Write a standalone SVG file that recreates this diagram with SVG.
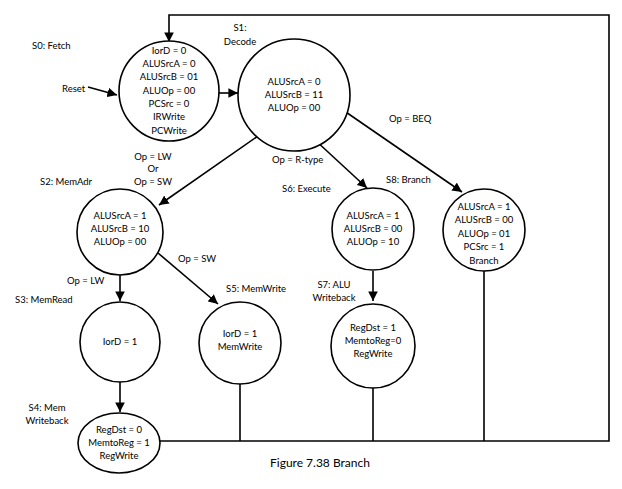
<svg xmlns="http://www.w3.org/2000/svg" width="622" height="489" viewBox="0 0 622 489">
<style>
.n{fill:#fff;stroke:#000;stroke-width:1.6}
text{font-family:"Lato","Liberation Sans",sans-serif;font-size:9.5px;fill:#000}
.c{text-anchor:middle}
.e{fill:none;stroke:#000;stroke-width:1.6}
</style>
<defs><marker id="a" viewBox="0 0 10 10" refX="10" refY="5" markerWidth="6" markerHeight="6" orient="auto"><path d="M0,0L10,5L0,10z"/></marker></defs>
<rect width="622" height="489" fill="#fff"/>
<g id="connectors">
<path class="e" d="M88,87L117,95" marker-end="url(#a)"/>
<path class="e" d="M219,93L238,93" marker-end="url(#a)"/>
<path class="e" d="M258,136L159,205" marker-end="url(#a)"/>
<path class="e" d="M315,140L367,188" marker-end="url(#a)"/>
<path class="e" d="M340,108L462,192" marker-end="url(#a)"/>
<path class="e" d="M120,275L120,301" marker-end="url(#a)"/>
<path class="e" d="M158,253L218,304" marker-end="url(#a)"/>
<path class="e" d="M120,382L120,412" marker-end="url(#a)"/>
<path class="e" d="M373,271L373,301" marker-end="url(#a)"/>
<path class="e" d="M484,271V441M373,388V441M240,384V441M160,441H609V15H169V42" marker-end="url(#a)"/>
</g>
<g id="S0"><circle class="n" cx="169" cy="91" r="50"/>
<text x="32" y="49">S0: Fetch</text><text x="62" y="92">Reset</text>
<text class="c" x="169" y="54">IorD = 0</text><text class="c" x="169" y="67">ALUSrcA = 0</text><text class="c" x="169" y="80">ALUSrcB = 01</text><text class="c" x="169" y="94">ALUOp = 00</text><text class="c" x="169" y="107">PCSrc = 0</text><text class="c" x="169" y="120">IRWrite</text><text class="c" x="169" y="134">PCWrite</text></g>
<g id="S1"><circle class="n" cx="294" cy="95" r="56"/>
<text class="c" x="240" y="31">S1:</text><text class="c" x="240" y="45">Decode</text>
<text class="c" x="294" y="85">ALUSrcA = 0</text><text class="c" x="294" y="98">ALUSrcB = 11</text><text class="c" x="294" y="111">ALUOp = 00</text></g>
<g id="S2"><circle class="n" cx="120" cy="232" r="43"/>
<text x="40" y="185">S2: MemAdr</text>
<text class="c" x="153" y="160">Op = LW</text><text class="c" x="153" y="172">Or</text><text class="c" x="153" y="185">Op = SW</text>
<text class="c" x="120" y="219">ALUSrcA = 1</text><text class="c" x="120" y="232">ALUSrcB = 10</text><text class="c" x="120" y="245">ALUOp = 00</text></g>
<g id="S3"><circle class="n" cx="120" cy="342" r="40"/>
<text x="67" y="284">Op = LW</text><text x="15" y="303">S3: MemRead</text>
<text class="c" x="120" y="345">IorD = 1</text></g>
<g id="S4"><ellipse class="n" cx="119" cy="443" rx="41" ry="30"/>
<text class="c" x="47" y="411">S4: Mem</text><text class="c" x="47" y="424">Writeback</text>
<text class="c" x="119" y="433">RegDst = 0</text><text class="c" x="119" y="446">MemtoReg = 1</text><text class="c" x="119" y="459">RegWrite</text></g>
<g id="S5"><circle class="n" cx="240" cy="343" r="41"/>
<text x="178" y="262">Op = SW</text><text x="226" y="292">S5: MemWrite</text>
<text class="c" x="240" y="337">IorD = 1</text><text class="c" x="240" y="350">MemWrite</text></g>
<g id="S6"><circle class="n" cx="373" cy="229" r="41"/>
<text x="272" y="163">Op = R-type</text><text x="282" y="192">S6: Execute</text>
<text class="c" x="373" y="219">ALUSrcA = 1</text><text class="c" x="373" y="232">ALUSrcB = 00</text><text class="c" x="373" y="245">ALUOp = 10</text></g>
<g id="S7"><circle class="n" cx="373" cy="346" r="42"/>
<text class="c" x="334" y="288">S7: ALU</text><text class="c" x="334" y="301">Writeback</text>
<text class="c" x="373" y="331">RegDst = 1</text><text class="c" x="373" y="344">MemtoReg=0</text><text class="c" x="373" y="357">RegWrite</text></g>
<g id="S8"><circle class="n" cx="484" cy="230" r="41"/>
<text x="389" y="122">Op = BEQ</text><text x="386" y="183">S8: Branch</text>
<text class="c" x="484" y="210">ALUSrcA = 1</text><text class="c" x="484" y="223">ALUSrcB = 00</text><text class="c" x="484" y="237">ALUOp = 01</text><text class="c" x="484" y="250">PCSrc = 1</text><text class="c" x="484" y="264">Branch</text></g>
<text x="270" y="467" style="font-size:12px">Figure 7.38 Branch</text>
</svg>
